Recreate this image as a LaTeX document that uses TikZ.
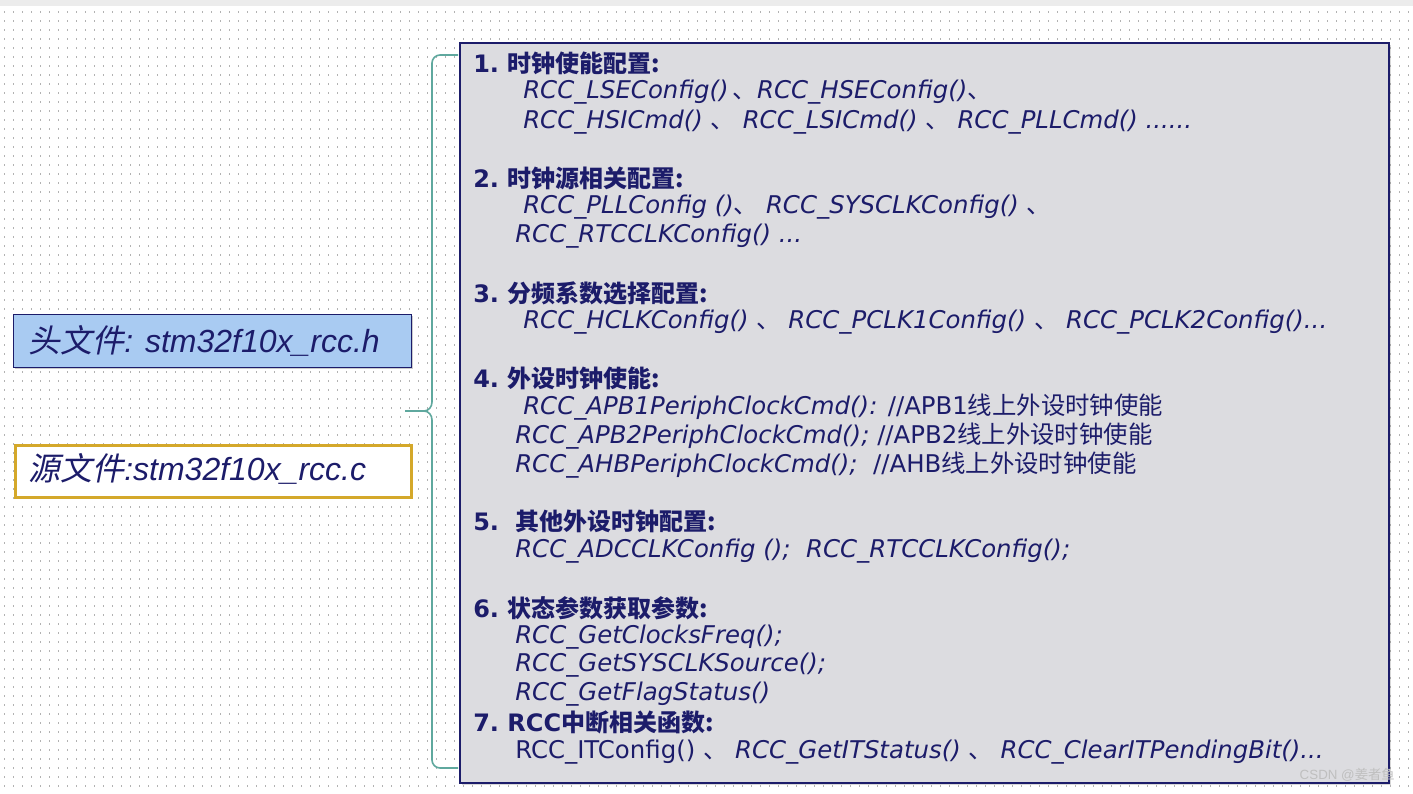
\documentclass[tikz,border=0pt]{standalone}
\usepackage{fontspec}
\setmainfont{DejaVu Sans}
\newfontfamily\cjk{Noto Sans CJK SC}
\newfontfamily\cjksl[FakeSlant=0.2]{Noto Sans CJK SC}
\newfontfamily\arialf{Liberation Sans}
\usetikzlibrary{shadows}
\definecolor{navy}{HTML}{1C1C6A}
\definecolor{panel}{HTML}{DCDCE0}
\definecolor{brc}{HTML}{5FA89E}
\definecolor{hdrblue}{HTML}{A9CBF2}
\definecolor{gold}{HTML}{D4A82A}
\newcommand{\zh}[1]{{\cjk #1}}
\newcommand{\zhs}[1]{{\cjksl #1}}
\tikzset{
 fn/.style={anchor=west,inner sep=0pt,text=navy,font=\fontsize{18.3}{20}\selectfont\itshape},
 hd/.style={anchor=west,inner sep=0pt,text=navy,font=\fontsize{18}{20}\selectfont\bfseries},
 side/.style={anchor=west,inner sep=0pt,text=navy,font=\arialf\fontsize{24}{26}\selectfont\itshape}
}
\begin{document}
\begin{tikzpicture}[x=0.75pt,y=-0.75pt]
\useasboundingbox (0,0) rectangle (1413,793);
\fill[white] (0,0) rectangle (1413,793);
\fill[gray!15] (0,0) rectangle (1413,6);
\foreach \yy in {12,21,...,790}{
 \draw[gray!60,line width=0.9pt,dash pattern=on 0.9pt off 5.85pt] (4,\yy) -- (1413,\yy);
}
% left boxes
\node[draw=navy,fill=hdrblue,minimum width=398*0.75pt,minimum height=53*0.75pt,anchor=north west,inner sep=0pt,drop shadow={shadow xshift=1.5pt,shadow yshift=-1.5pt,opacity=0.4}] (hbox) at (13,314) {};
\node[side] (htext) at (28,341) {\zhs{头文件}: stm32f10x\_rcc.h};
\node[draw=gold,line width=2.2pt,fill=white,minimum width=396*0.75pt,minimum height=52*0.75pt,anchor=north west,inner sep=0pt] (cbox) at (14,444) {};
\node[side] (ctext) at (28,469) {\zhs{源文件}:stm32f10x\_rcc.c};
% brace
\draw[brc,line width=1.2pt] (458,55) -- (440,55) to[out=180,in=90] (432,63) -- (432,402) to[out=-90,in=0] (424,411) -- (405,411);
\draw[brc,line width=1.2pt] (424,411) to[out=0,in=90] (432,420) -- (432,760) to[out=-90,in=180] (440,768) -- (458,768);
% panel
\node[draw=navy,line width=1.2pt,fill=panel,minimum width=929*0.75pt,minimum height=740*0.75pt,anchor=north west,inner sep=0pt,drop shadow={shadow xshift=1.5pt,shadow yshift=-1.5pt,opacity=0.3}] (panel) at (459,42) {};
% content
\node[hd] (h1) at (473,63) {1.\ \zh{时钟使能配置:}};
\node[fn] (l11) at (523,92) {RCC\_LSEConfig()\,\zh{、}RCC\_HSEConfig()\zh{、}};
\node[fn] (l12) at (523,122) {RCC\_HSICmd() \zh{、}\ RCC\_LSICmd() \zh{、}\ RCC\_PLLCmd() ......};
\node[hd] (h2) at (473,178) {2.\ \zh{时钟源相关配置:}};
\node[fn] (l21) at (523,207) {RCC\_PLLConfig ()\zh{、}\ RCC\_SYSCLKConfig() \zh{、}};
\node[fn] (l22) at (515,236) {RCC\_RTCCLKConfig() ...};
\node[hd] (h3) at (473,293) {3.\ \zh{分频系数选择配置:}};
\node[fn] (l31) at (523,322) {RCC\_HCLKConfig() \zh{、}\ RCC\_PCLK1Config() \zh{、}\ RCC\_PCLK2Config()...};
\node[hd] (h4) at (473,378) {4.\ \zh{外设时钟使能:}};
\node[fn] (l41) at (523,407) {RCC\_APB1PeriphClockCmd(): {\upshape //APB1\zh{线上外设时钟使能}}};
\node[fn] (l42) at (515,436) {RCC\_APB2PeriphClockCmd(); {\upshape //APB2\zh{线上外设时钟使能}}};
\node[fn] (l43) at (515,465) {RCC\_AHBPeriphClockCmd();\ \ {\upshape //AHB\zh{线上外设时钟使能}}};
\node[hd] (h5) at (473,521) {5.\ \ \zh{其他外设时钟配置:}};
\node[fn] (l51) at (515,551) {RCC\_ADCCLKConfig ();\ \ RCC\_RTCCLKConfig();};
\node[hd] (h6) at (473,608) {6.\ \zh{状态参数获取参数:}};
\node[fn] (l61) at (515,637) {RCC\_GetClocksFreq();};
\node[fn] (l62) at (515,665) {RCC\_GetSYSCLKSource();};
\node[fn] (l63) at (515,694) {RCC\_GetFlagStatus()};
\node[hd] (h7) at (473,722) {7.\ RCC\zh{中断相关函数:}};
\node[fn] (l71) at (515,752) {{\upshape RCC\_ITConfig()} \zh{、}\ RCC\_GetITStatus() \zh{、}\ RCC\_ClearITPendingBit()...};
\node[anchor=east,inner sep=0pt,text=gray!50,font=\arialf\fontsize{10}{11}\selectfont] (wm) at (1395,775) {CSDN @\zh{姜者鱼}};
\end{tikzpicture}
\end{document}
